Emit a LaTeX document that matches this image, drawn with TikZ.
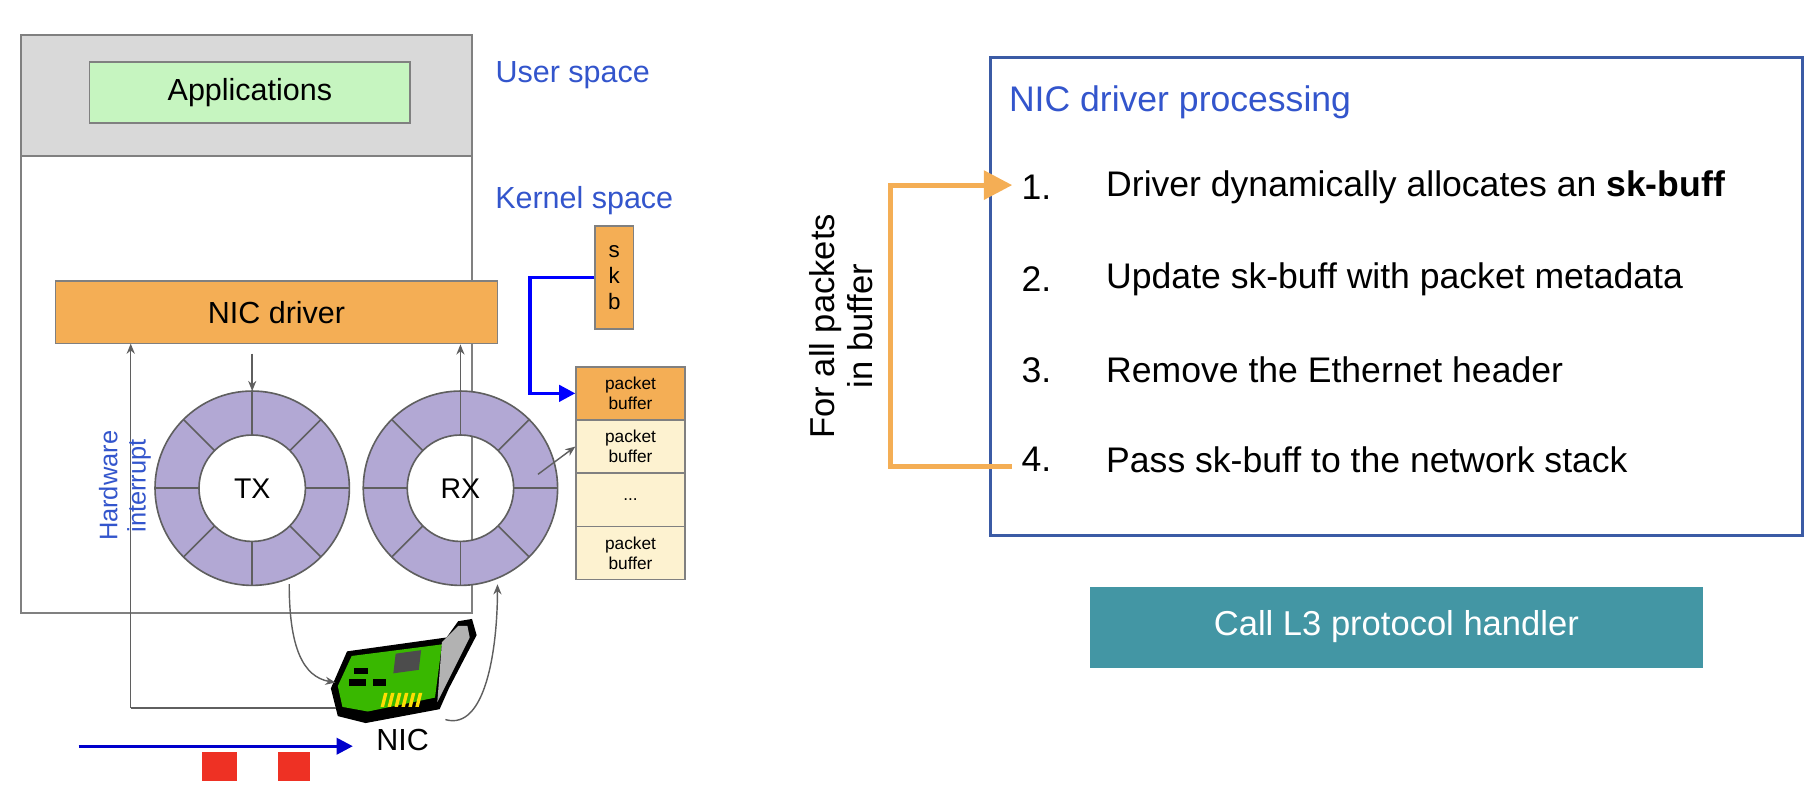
\documentclass[tikz,border=0pt]{standalone}
\usepackage{fontspec}
\setmainfont{Liberation Sans}
\usetikzlibrary{arrows.meta,calc}
\definecolor{ublue}{HTML}{3355CC}
\definecolor{orng}{HTML}{F4AE55}
\definecolor{cream}{HTML}{FDF2D0}
\definecolor{lgreen}{HTML}{C6F5C0}
\definecolor{lav}{HTML}{B2A8D4}
\definecolor{teal}{HTML}{4396A4}
\definecolor{frame}{HTML}{3B5BA5}
\definecolor{ggray}{HTML}{5F5F5F}
\definecolor{rsq}{HTML}{EE3124}
\begin{document}
\begin{tikzpicture}[x=0.02cm,y=-0.02cm,
  box/.style={draw=gray,line width=0.8pt},
  lbl/.style={text=ublue,font=\fontsize{13}{15}\selectfont},
  gar/.style={draw=ggray,line width=0.7pt,-{Stealth[length=5pt,width=4pt]}},
  pb/.style={box,fill=cream,minimum width=94*0.02cm,minimum height=46*0.02cm,inner sep=0pt,align=center,font=\fontsize{8.5}{10}\selectfont},
  item/.style={anchor=west,font=\fontsize{17.5}{20}\selectfont},
  num/.style={anchor=east,font=\fontsize{17.5}{20}\selectfont}]
\useasboundingbox (0,0) rectangle (1568,691);
% panels
\draw[box,fill=black!15] (18,30) rectangle (408,135);
\draw[box,fill=white] (18,135) rectangle (408,530);
\node[box,fill=lgreen,minimum width=277*0.02cm,minimum height=53*0.02cm,font=\fontsize{15}{17}\selectfont] (app) at (216,80) {Applications};
\node[lbl,font=\fontsize{15}{17}\selectfont] (us) at (495,65) {User space};
\node[lbl,font=\fontsize{15}{17}\selectfont] (ks) at (505,173) {Kernel space};
\node[box,fill=orng,minimum width=33*0.02cm,minimum height=89*0.02cm,inner sep=0pt,align=center,font=\fontsize{11}{13}\selectfont] (skb) at (531,240) {s\\k\\b};
\node[box,fill=orng,minimum width=382*0.02cm,minimum height=54*0.02cm,font=\fontsize{15}{17}\selectfont] (drv) at (239,270) {NIC driver};
% rings
\foreach \n/\cx/\t in {tx/218/TX, rx/398/RX}{
  \fill[lav,even odd rule,draw=ggray,line width=0.8pt] (\cx,422) circle[radius=84] (\cx,422) circle[radius=46];
  \foreach \a in {0,45,...,315}
    \draw[ggray,line width=0.8pt] ($(\cx,422)+(\a:46)$) -- ($(\cx,422)+(\a:84)$);
  \node[font=\fontsize{14}{16}\selectfont] (\n) at (\cx,422) {\t};
}
\coordinate (txtop) at (218,338);
\coordinate (rxtop) at (398,338);
\draw[gar] ($(drv.south -| txtop)+(0,8)$) -- (txtop);
\draw[gar] (rxtop) -- (drv.south -| rxtop);
% packet buffers
\node[pb,fill=orng] (p1) at (545,340) {packet\\buffer};
\node[pb] (p2) at (545,386) {packet\\buffer};
\node[pb] (p3) at (545,432) {...};
\node[pb] (p4) at (545,478) {packet\\buffer};
\draw[blue,line width=1.8pt,-{Triangle[length=8pt,width=8pt]}] (skb.west) -- (458,240) -- (458,340) -- (p1.west);
\coordinate (rxseg) at (465,410);
\draw[gar] (rxseg) -- (p2.west);
% NIC card
\begin{scope}[shift={(352,585)}]
  \fill[black] (-66,10) -- (-52,-22) -- (34,-34) -- (44,-48) -- (56,-50) -- (60,-36) -- (36,10) -- (28,28) -- (-36,40) -- (-60,34) -- cycle;
  \fill[green!60!black!70!lime] (-60,8) -- (-48,-18) -- (30,-28) -- (24,18) -- (-34,30) -- (-56,26) -- cycle;
  \fill[gray!60] (30,-30) -- (44,-44) -- (52,-44) -- (54,-34) -- (30,14) -- (26,22) -- cycle;
  \fill[black!70] (-10,-20) -- (12,-23) -- (10,-6) -- (-12,-3) -- cycle;
  \fill[black] (-46,-8) rectangle (-34,-2);
  \fill[black] (-50,2) rectangle (-36,8);
  \fill[black] (-30,2) rectangle (-18,8);
  \foreach \i in {0,...,5} \fill[yellow!80!orange] (-20+\i*6,14) -- (-17+\i*6,14) -- (-20+\i*6,26) -- (-23+\i*6,26) -- cycle;
\end{scope}
\coordinate (nicin) at (290,590);
\coordinate (nicout) at (385,622);
\coordinate (nicint) at (290,612);
\node[font=\fontsize{15}{17}\selectfont] (nic) at (348,640) {NIC};
\draw[ggray,line width=0.7pt,-{Stealth[length=5pt,width=4pt]}] (113,612) -- (113,297);
\draw[ggray,line width=0.7pt] (nicint) -- (113,612);
\node[lbl,rotate=90,font=\fontsize{12.5}{14}\selectfont,align=center,text=ublue] (hw) at (108,420) {Hardware\\interrupt};
\draw[gar] (250,505) .. controls (250,560) and (262,585) .. (nicin);
\draw[gar] (nicout) .. controls (420,632) and (430,560) .. (430,505);
\coordinate (ws) at (68,645);
\draw[blue!80!black,line width=1.5pt,-{Triangle[length=8pt,width=8pt]}] (ws) -- (305,645);
\fill[rsq] (175,650) rectangle (205,675);
\fill[rsq] (240,650) rectangle (268,675);
% right panel
\draw[frame,line width=1.6pt] (856,50) rectangle (1558,463);
\node[anchor=west,text=ublue,font=\fontsize{17.5}{20}\selectfont] (title) at (866,88) {NIC driver processing};
\node[num] (n1) at (915,162) {1.};
\node[item] (t1) at (950,162) {Driver dynamically allocates an \textbf{sk-buff}};
\node[num] (n2) at (915,241) {2.};
\node[item] (t2) at (950,241) {Update sk-buff with packet metadata};
\node[num] (n3) at (915,320) {3.};
\node[item] (t3) at (950,320) {Remove the Ethernet header};
\node[num] (n4) at (915,397) {4.};
\node[item] (t4) at (950,397) {Pass sk-buff to the network stack};
\coordinate (lc1) at (770,403);
\coordinate (lc2) at (770,160);
\draw[orng,line width=2.5pt,-{Triangle[length=14pt,width=14pt]}] ($(n4.west)+(-2,6)$) -- (lc1) -- (lc2) -- ($(n1.west)+(-2,-2)$);
\node[rotate=90,align=center,font=\fontsize{17}{19}\selectfont] (fa) at (727,282) {For all packets\\in buffer};
\node[fill=teal,text=white,minimum width=530*0.02cm,minimum height=70*0.02cm,font=\fontsize{17}{20}\selectfont] (l3) at (1207,542) {Call L3 protocol handler};
\end{tikzpicture}
\end{document}
